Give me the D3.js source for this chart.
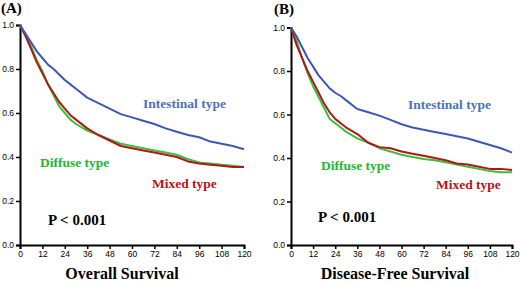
<!DOCTYPE html>
<html>
<head>
<meta charset="utf-8">
<script src="https://cdn.jsdelivr.net/npm/d3@7"></script>
<style>
  body { margin: 0; background: #fff; }
  svg text { font-family: "Liberation Serif", "Times New Roman", serif; font-weight: bold; }
  .axis text { font-family: "Liberation Sans", Arial, sans-serif; font-weight: normal; font-size: 8.5px; fill: #000; }
</style>
</head>
<body>
<svg width="520" height="283"></svg>
<script>
// months, shared by all curves
const months = [0, 3, 6, 9, 12, 15, 18, 21, 24, 27, 30, 36, 42, 48, 54, 60, 66, 72, 78, 84, 90, 96, 102, 108, 114, 120];
const xTicks = [0, 12, 24, 36, 48, 60, 72, 84, 96, 108, 120];
const yTicks = [0.0, 0.2, 0.4, 0.6, 0.8, 1.0];

// (A) overall survival
const osIntestinal = [1.00, 0.96, 0.92, 0.88, 0.85, 0.82, 0.80, 0.775, 0.75, 0.73, 0.71, 0.67, 0.645, 0.62, 0.595, 0.58, 0.565, 0.55, 0.53, 0.515, 0.50, 0.49, 0.47, 0.46, 0.45, 0.435];
const osDiffuse    = [1.00, 0.95, 0.90, 0.84, 0.79, 0.73, 0.68, 0.63, 0.60, 0.57, 0.55, 0.52, 0.50, 0.48, 0.46, 0.45, 0.44, 0.43, 0.42, 0.41, 0.39, 0.375, 0.37, 0.365, 0.36, 0.355];
const osMixed      = [1.00, 0.95, 0.89, 0.83, 0.78, 0.73, 0.69, 0.65, 0.62, 0.59, 0.57, 0.53, 0.50, 0.475, 0.45, 0.44, 0.43, 0.42, 0.41, 0.40, 0.38, 0.37, 0.365, 0.36, 0.355, 0.355];

// (B) disease-free survival
const dfsIntestinal = [1.00, 0.96, 0.91, 0.86, 0.82, 0.78, 0.75, 0.72, 0.70, 0.685, 0.665, 0.625, 0.61, 0.595, 0.575, 0.555, 0.54, 0.53, 0.52, 0.51, 0.50, 0.49, 0.475, 0.46, 0.445, 0.425];
const dfsDiffuse    = [1.00, 0.94, 0.86, 0.79, 0.73, 0.68, 0.63, 0.58, 0.56, 0.54, 0.52, 0.49, 0.47, 0.445, 0.43, 0.415, 0.405, 0.395, 0.39, 0.38, 0.37, 0.36, 0.35, 0.34, 0.335, 0.335];
const dfsMixed      = [1.00, 0.92, 0.86, 0.80, 0.75, 0.70, 0.65, 0.61, 0.58, 0.56, 0.54, 0.51, 0.47, 0.45, 0.445, 0.43, 0.42, 0.41, 0.40, 0.39, 0.375, 0.37, 0.36, 0.35, 0.35, 0.345];

const seriesNames = ["Intestinal type", "Diffuse type", "Mixed type"];
const lineColors = ["#3a58b8", "#3cbf3c", "#b01818"];
const labelColors = ["#4a72c0", "#22b830", "#c01018"];

const svg = d3.select("svg");

function drawPanel(cfg) {
  const x = d3.scaleLinear().domain([0, 120]).range([cfg.x0, cfg.x1]);
  const y = d3.scaleLinear().domain([0, 1]).range([cfg.y0, cfg.y1]);
  const g = svg.append("g");

  g.append("g")
    .attr("class", "axis")
    .attr("transform", `translate(0,${cfg.y0})`)
    .call(d3.axisBottom(x).tickValues(xTicks).tickSize(4).tickPadding(2));
  g.append("g")
    .attr("class", "axis")
    .attr("transform", `translate(${cfg.x0},0)`)
    .call(d3.axisLeft(y).tickValues(yTicks).tickFormat(d3.format(".1f")).tickSize(4).tickPadding(2));
  g.selectAll(".axis .domain").attr("stroke", "#000").attr("stroke-width", 2);
  g.selectAll(".axis .tick line").attr("stroke", "#000").attr("stroke-width", 1.5);

  const line = d3.line().x((d, i) => x(months[i])).y(d => y(d));
  // diffuse first, then mixed, blue last
  [1, 2, 0].forEach(k => {
    g.append("path")
      .attr("d", line(cfg.series[k]))
      .attr("fill", "none")
      .attr("stroke", lineColors[k])
      .attr("stroke-width", 2)
      .attr("stroke-linejoin", "round");
  });

  cfg.labels.forEach((p, k) => {
    g.append("text")
      .attr("x", p[0]).attr("y", p[1])
      .attr("font-size", 13.5)
      .attr("fill", labelColors[k])
      .text(seriesNames[k]);
  });

  g.append("text").attr("x", cfg.p[0]).attr("y", cfg.p[1])
    .attr("font-size", 15).attr("fill", "#000").text("P < 0.001");
  g.append("text").attr("x", cfg.tag[0]).attr("y", cfg.tag[1])
    .attr("font-size", 15).attr("fill", "#000").text(cfg.tagText);
  g.append("text").attr("x", cfg.title[0]).attr("y", cfg.title[1])
    .attr("font-size", 16).attr("text-anchor", "middle").attr("fill", "#000").text(cfg.titleText);
}

drawPanel({
  x0: 20, x1: 244, y0: 245, y1: 25,
  series: [osIntestinal, osDiffuse, osMixed],
  labels: [[143, 108], [40, 167], [152, 188]],
  p: [48, 225], tag: [1, 13], tagText: "(A)",
  title: [122, 279], titleText: "Overall Survival"
});

drawPanel({
  x0: 291, x1: 512, y0: 245, y1: 27.5,
  series: [dfsIntestinal, dfsDiffuse, dfsMixed],
  labels: [[408, 109], [321, 170], [436, 189]],
  p: [318, 222], tag: [274, 14], tagText: "(B)",
  title: [395, 279], titleText: "Disease-Free Survival"
});
</script>
</body>
</html>
